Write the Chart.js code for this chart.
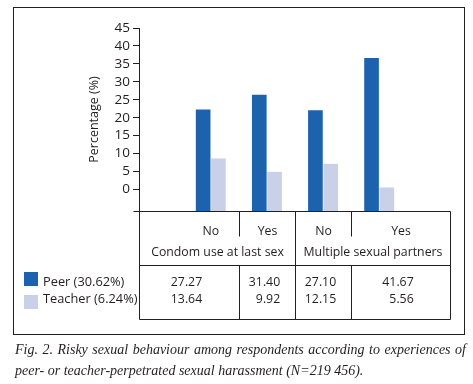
<!DOCTYPE html>
<html>
<head>
<meta charset="utf-8">
<script src="https://cdn.jsdelivr.net/npm/chart.js@4.4.1/dist/chart.umd.min.js"></script>
<style>
  html, body { margin: 0; padding: 0; background: #fff; }
  #wrap { position: relative; width: 473px; height: 384px; }
  #chart { position: absolute; left: 0; top: 0; }
  #caption {
    position: absolute; left: 15px; top: 339px; width: 451px;
    font-family: "Liberation Serif", serif; font-style: italic; font-size: 14px;
    line-height: 21px; color: #231f20; text-align: justify;
  }
</style>
</head>
<body>
<div id="wrap">
  <canvas id="chart" width="473" height="384"></canvas>
  <div id="caption">Fig. 2. Risky sexual behaviour among respondents according to experiences of peer- or teacher-perpetrated sexual harassment (N=219 456).</div>
</div>
<script>
// Data
const answers = ["No", "Yes", "No", "Yes"];
const groups = ["Condom use at last sex", "Multiple sexual partners"];
const peerLabel = "Peer (30.62%)";
const teacherLabel = "Teacher (6.24%)";
const peerValues = [27.27, 31.40, 27.10, 41.67];
const teacherValues = [13.64, 9.92, 12.15, 5.56];
const axisOffset = 5; // printed axis labels sit 5 points below the plotted values

const ink = "#231f20";
const peerColor = "#1c62ad";
const teacherColor = "#c8d1e7";
const font = "Open Sans";

/**********************************************************/
/*   Frame, data table and legend drawn under the bars    */
/**********************************************************/
const tablePlugin = {
  id: "tablePlugin",
  afterDraw(chart) {
    const ctx = chart.ctx;
    const area = chart.chartArea;
    const xs = chart.scales.x;
    const px = v => Math.round(xs.getPixelForValue(v)) + 0.5;
    const left = Math.round(area.left) + 0.5;
    const right = Math.round(area.right) + 0.5;
    const top = Math.round(area.bottom) + 0.5;
    const mid = top + 54, bottom = top + 108;
    const b1 = px(1.5), b2 = px(2.5), b3 = px(3.5);

    ctx.save();
    ctx.strokeStyle = ink;
    ctx.lineWidth = 1;

    // Outer frame
    ctx.strokeRect(13.5, 7.5, 451, 327);

    // Table rules
    ctx.beginPath();
    ctx.moveTo(left - 6, top); ctx.lineTo(right, top);
    ctx.moveTo(left, mid); ctx.lineTo(right, mid);
    ctx.moveTo(left, bottom); ctx.lineTo(right, bottom);
    [left, b2, right].forEach(x => { ctx.moveTo(x, top); ctx.lineTo(x, bottom); });
    [b1, b3].forEach(x => {
      ctx.moveTo(x, top); ctx.lineTo(x, top + 25);
      ctx.moveTo(x, mid); ctx.lineTo(x, bottom);
    });
    ctx.stroke();

    // Header text
    ctx.fillStyle = ink;
    ctx.textBaseline = "middle";
    ctx.textAlign = "center";
    ctx.font = "12.3px '" + font + "'";
    const edges = [left, b1, b2, b3, right];
    const headX = [xs.getPixelForValue(1), (b1 + b2) / 2, (b2 + b3) / 2, (b3 + right) / 2];
    answers.forEach((a, i) => ctx.fillText(a, headX[i], top + 20));
    ctx.fillText(groups[0], (left + b2) / 2, top + 41);
    ctx.fillText(groups[1], (b2 + right) / 2, top + 41);

    // Values, right aligned on the decimals
    ctx.textAlign = "right";
    const half = ctx.measureText("00.00").width / 2;
    for (let i = 0; i < 4; i++) {
      const cx = (edges[i] + edges[i + 1]) / 2 - 3;
      ctx.fillText(peerValues[i].toFixed(2), cx + half, mid + 17);
      ctx.fillText(teacherValues[i].toFixed(2), cx + half, mid + 34);
    }

    // Legend
    ctx.textAlign = "left";
    ctx.font = "12.8px '" + font + "'";
    ctx.fillStyle = peerColor;
    ctx.fillRect(24, 272, 14, 14);
    ctx.fillStyle = teacherColor;
    ctx.fillRect(24, 295, 14, 14);
    ctx.fillStyle = ink;
    ctx.fillText(peerLabel, 43, mid + 17);
    ctx.fillText(teacherLabel, 43, mid + 34);
    ctx.restore();
  }
};

const chart = new Chart(document.getElementById("chart"), {
  type: "bar",
  data: {
    datasets: [
      {
        label: peerLabel,
        data: peerValues.map((v, i) => ({ x: i + 1, y: v })),
        backgroundColor: peerColor,
        base: -1
      },
      {
        label: teacherLabel,
        data: teacherValues.map((v, i) => ({ x: i + 1, y: v })),
        backgroundColor: teacherColor,
        base: -1
      }
    ]
  },
  options: {
    responsive: false,
    animation: false,
    barPercentage: 0.96,
    categoryPercentage: 0.68,
    layout: { padding: { left: 87, top: 28, right: 23, bottom: 173 } },
    plugins: { legend: { display: false }, tooltip: { enabled: false } },
    scales: {
      x: { type: "linear", min: 0.183, max: 4.8, display: false },
      y: {
        min: -1,
        max: 50,
        afterBuildTicks: scale => {
          scale.ticks = scale.ticks.filter(t => t.value >= axisOffset);
        },
        afterFit: scale => { scale.width = 139 - 87; },
        ticks: {
          stepSize: 5,
          color: ink,
          padding: 3,
          font: { family: font, size: 13.5 },
          callback: v => v - axisOffset
        },
        grid: { drawOnChartArea: false, tickLength: 6, color: ink },
        border: { color: ink },
        title: {
          display: true,
          text: "Percentage (%)",
          color: ink,
          font: { family: font, size: 12.5 },
          padding: { top: 0, bottom: 0 }
        }
      }
    }
  },
  plugins: [tablePlugin]
});
</script>
</body>
</html>
